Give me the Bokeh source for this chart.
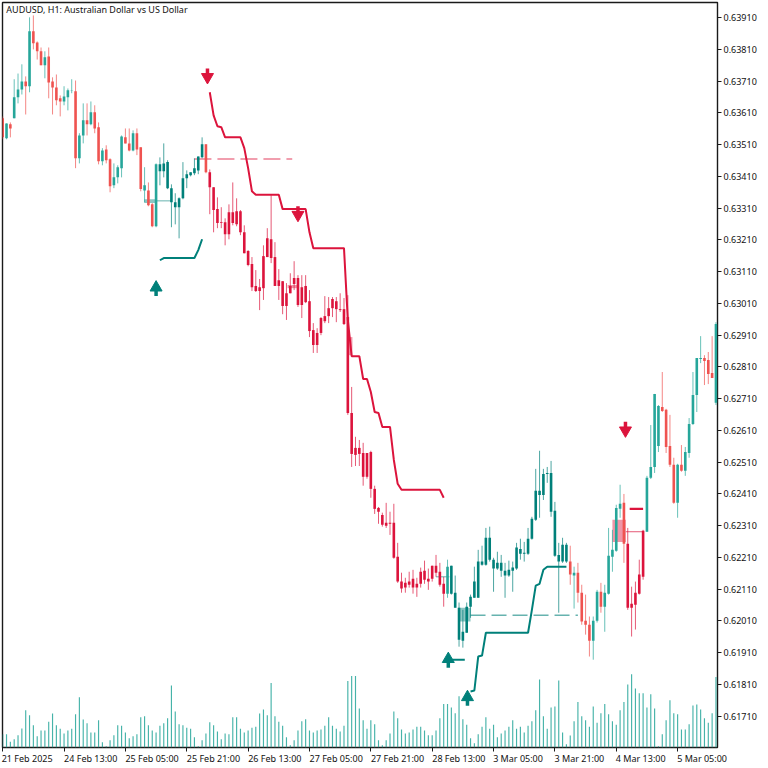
from bokeh.plotting import figure
from bokeh.models import Range1d, LinearAxis, FixedTicker, NumeralTickFormatter, Label
from bokeh.embed import file_html
from bokeh.resources import INLINE

opens = [63593,63530,63574,63593,63659,63684,63709,63694,63867,63832,
63804,63760,63788,63709,63690,63656,63646,63659,63679,63678,
63467,63539,63587,63574,63612,63565,63458,63495,63464,63382,
63407,63436,63533,63514,63492,63546,63502,63366,63366,63322,
63253,63426,63426,63455,63373,63329,63313,63341,63404,63414,
63420,63429,63470,63511,63423,63376,63307,63266,63266,63228,
63297,63259,63300,63234,63175,63134,63065,63049,63058,63156,
63212,63156,63083,63080,63002,63042,63071,63090,63005,63065,
63017,62926,62879,62917,62954,62970,62995,63017,62992,62992,
62967,62665,62533,62555,62539,62464,62542,62426,62366,62344,
62319,62319,62319,62212,62134,62130,62124,62143,62127,62127,
62140,62143,62143,62184,62165,62127,62096,62096,62099,62052,
61948,61973,62055,62083,62083,62187,62187,62272,62203,62175,
62193,62168,62153,62168,62175,62237,62222,62222,62269,62329,
62407,62407,62473,62476,62357,62197,62197,62250,62197,62153,
62162,62099,62011,61998,61948,62011,62102,62055,62096,62212,
62231,62363,62382,62253,62052,62061,62096,62149,62291,62461,
62495,62561,62684,62675,62561,62502,62382,62502,62483,62539,
62630,62722,62835,62838,62832,62791,62697]
highs = [63599,63577,63580,63716,63734,63763,63725,63911,63917,63835,
63816,63804,63816,63722,63731,63665,63694,63687,63716,63712,
63546,63640,63640,63646,63634,63580,63499,63508,63467,63451,
63445,63539,63561,63561,63555,63561,63502,63439,63391,63326,
63451,63470,63514,63461,63385,63357,63344,63455,63429,63423,
63467,63473,63533,63511,63432,63376,63344,63313,63278,63322,
63391,63341,63304,63256,63178,63156,63115,63087,63193,63247,
63351,63203,63118,63080,63074,63105,63143,63099,63099,63099,
63052,62948,62932,62967,63033,63030,63030,63030,63042,63027,
63036,62747,62590,62580,62571,62539,62546,62436,62369,62351,
62382,62354,62379,62256,62162,62146,62165,62171,62146,62178,
62200,62175,62184,62218,62193,62149,62203,62184,62153,62068,
62045,62068,62093,62181,62234,62247,62303,62307,62209,62228,
62218,62193,62200,62197,62256,62269,62259,62303,62338,62489,
62546,62489,62495,62514,62385,62256,62272,62256,62247,62181,
62193,62124,62093,62024,62024,62108,62130,62124,62303,62297,
62376,62439,62410,62303,62118,62134,62203,62297,62467,62627,
62725,62690,62794,62678,62659,62524,62505,62564,62558,62649,
62794,62838,62907,62847,62857,62907,62951]
lows = [63527,63527,63533,63593,63640,63668,63605,63675,63810,63778,
63760,63719,63656,63605,63634,63599,63634,63618,63672,63436,
63451,63514,63539,63571,63546,63448,63445,63451,63360,63373,
63388,63407,63514,63489,63489,63477,63363,63329,63316,63250,
63250,63382,63407,63370,63250,63259,63215,63338,63373,63410,
63414,63417,63467,63420,63291,63234,63247,63247,63193,63212,
63256,63253,63225,63168,63127,63049,63046,62989,63021,63156,
63137,63065,63021,62976,62958,63042,63052,62999,62964,63011,
62904,62854,62854,62910,62948,62948,62967,62951,62983,62942,
62659,62495,62498,62498,62436,62458,62398,62347,62316,62307,
62303,62281,62206,62130,62099,62099,62115,62096,62086,62115,
62127,62108,62134,62149,62118,62055,62083,62093,62052,61929,
61926,61973,62020,62083,62083,62184,62184,62197,62102,62171,
62149,62083,62149,62102,62171,62203,62197,62218,62266,62325,
62335,62391,62445,62338,62212,62036,62193,62193,62124,62049,
62068,61998,61967,61898,61888,62005,62036,61976,62093,62165,
62228,62335,62193,62045,61961,61983,62093,62140,62291,62457,
62476,62542,62668,62539,62495,62379,62335,62480,62467,62524,
62627,62668,62822,62753,62756,62775,62690]
closes = [63533,63577,63561,63659,63684,63709,63694,63867,63829,63804,
63760,63785,63706,63690,63650,63646,63662,63681,63680,63467,
63539,63587,63574,63612,63561,63458,63492,63461,63379,63407,
63439,63536,63514,63492,63546,63495,63370,63382,63319,63253,
63448,63448,63451,63373,63329,63313,63341,63404,63417,63423,
63436,63473,63511,63423,63376,63304,63263,63263,63228,63297,
63263,63300,63234,63168,63131,63061,63049,63061,63159,63215,
63153,63065,63065,63002,63042,63065,63090,63005,63061,63014,
62923,62879,62917,62964,62970,62995,63024,62992,62989,62945,
62665,62536,62555,62536,62464,62539,62426,62363,62354,62313,
62310,62316,62209,62134,62112,62115,62134,62115,62115,62165,
62168,62134,62184,62162,62124,62096,62181,62184,62052,61951,
61976,62055,62086,62134,62197,62197,62272,62203,62175,62193,
62168,62153,62171,62178,62241,62222,62225,62269,62332,62420,
62420,62473,62476,62354,62215,62218,62250,62197,62156,62162,
62099,62008,61998,61948,62011,62102,62055,62099,62215,62234,
62366,62379,62253,62052,62064,62099,62156,62294,62461,62495,
62725,62687,62671,62558,62502,62382,62502,62483,62542,62630,
62722,62838,62838,62829,62788,62775,62945]
volumes = [400,400,170,250,370,570,1120,970,670,340,510,
510,770,1020,670,560,420,510,560,1000,1510,
840,730,450,450,820,160,40,220,370,670,
650,450,280,340,400,910,940,670,510,450,
650,730,880,1860,1080,700,670,590,560,310,
40,220,420,760,670,480,250,420,400,910,
910,560,450,510,590,620,1020,
1140,970,1940,940,770,650,310,70,220,510,790,850,510,450,510,540,650,910,650,560,480,650,
2000,2150,2150,1170,820,560,820,700,220,70,220,420,1080,880,540,420,450,540,620,620,510,370,370,510,
880,1310,1310,1200,1030,1540,850,680,280,130,400,620,910,560,680,310,420,510,620,
820,560,620,450,650,790,1120,2040,940,560,1200,1230,2010,450,100,360,790,1370,940,820,
620,1230,740,1030,1310,1000,790,680,1120,1370,1890,2200,1770,1630,1630,1200,1600,1170,40,400,
820,1420,1030,1000,540,540,700,1260,1290,1140,880,740,1030,2120]

tick_index = [0,16,32,48,64,80,96,112,128,144,160,176]
tick_labels = ["21 Feb 2025","24 Feb 13:00","25 Feb 05:00","25 Feb 21:00","26 Feb 13:00","27 Feb 05:00",
               "27 Feb 21:00","28 Feb 13:00","3 Mar 05:00","3 Mar 21:00","4 Mar 13:00","5 Mar 05:00"]
price_ticks = [0.63910,0.63810,0.63710,0.63610,0.63510,0.63410,0.63310,0.63210,0.63110,0.63010,0.62910,
               0.62810,0.62710,0.62610,0.62510,0.62410,0.62310,0.62210,0.62110,0.62010,0.61910,0.61810,0.61710]

crimson_spans = [(54,115),(163,167)]
dark_spans = [(41,52),(117,147)]

stop_down_i = list(range(54,116))
stop_down = [63675,63602,63568,63565,63533,63533,63533,63533,63533,63499,63436,63363,
             63352,63352,63352,63352,63352,63352,63352,63307,63307,63307,63307,63307,63307,63307,
             63234,63184,63184,63184,63184,63184,63184,63184,63184,63184,62958,62844,62844,62844,
             62772,62772,62731,62668,62665,62621,62621,62621,62517,62442,
             62423,62423,62423,62423,62423,62423,62423,62423,62423,62423,62423,62398]
stop_up1_i = list(range(41,53))
stop_up1 = [63146,63153,63153,63153,63153,63153,63153,63153,63153,63153,63178,63212]
stop_up2_i = [117,120.5]
stop_up2 = [61888,61888]
stop_up3_i = list(range(122,148))
stop_up3 = [61788,61791,61898,61901,61973,61973,61973,61973,61973,61973,61973,61973,61973,61973,61973,61973,
            62045,62121,62127,62171,62181,62181,62181,62181,62181,62181]
stop_down2_i = [163.5,167]
stop_down2 = [62363,62363]

dash_red = ([50,75.5],[63465,63465])
dash_teal = ([122,150],[62028,62028])
thin_teal = [([40,43.9],[63333,63333]),([113,116.5],[62149,62149])]
thin_red = [([162.5,167],[62291,62291])]
boxes_teal = [(36.9,40,63326,63338),(118.8,122,62008,62052)]
boxes_red = [(159,162.5,62259,62329),(89.9,91.2,62847,62904),(74.3,77.2,63058,63068)]

arrows_down = [(53.4,63731),(77,63297),(162.4,62618)]
arrows_up = [(40,63052),(116.2,61882),(121.2,61762)]

TEAL, SALMON, CRIMSON, DARK = "#26A69A", "#EF5350", "#DC143C", "#00807A"
PT = 1e-5
n = len(opens)
assert n == len(highs) == len(lows) == len(closes) == len(volumes) == 187
assert len(stop_down) == len(stop_down_i) and len(stop_up1) == len(stop_up1_i) and len(stop_up3) == len(stop_up3_i)

def pr(v):
    return [a*PT for a in v]

def in_span(i, spans):
    return any(a <= i <= b for a, b in spans)

colors = []
for i in range(n):
    if in_span(i, crimson_spans):
        colors.append(CRIMSON)
    elif in_span(i, dark_spans):
        colors.append(DARK)
    else:
        colors.append(TEAL if closes[i] >= opens[i] else SALMON)

idx = list(range(n))
Y_LOW = 0.616115
p = figure(width=760, height=767, output_backend="svg", toolbar_location=None,
           x_range=Range1d(-0.05, 186.4), y_range=Range1d(Y_LOW, 0.639577),
           min_border_left=2, min_border_top=2, min_border_right=43, min_border_bottom=16,
           x_axis_location=None, y_axis_location=None, background_fill_color="white")
p.grid.visible = False
p.outline_line_color = "#1a1a1a"
p.outline_line_width = 1.4

p.extra_y_ranges = {"vol": Range1d(0, 22380)}
p.vbar(x=idx, top=volumes, bottom=0, width=0.3, fill_color=TEAL, fill_alpha=0.85, line_color=None, y_range_name="vol")

for (a, b, lo, hi) in boxes_teal:
    p.quad(left=a, right=b, bottom=lo*PT, top=hi*PT, fill_color=DARK, fill_alpha=0.45, line_color=None)
for (a, b, lo, hi) in boxes_red:
    p.quad(left=a, right=b, bottom=lo*PT, top=hi*PT, fill_color=CRIMSON, fill_alpha=0.45, line_color=None)

p.line(dash_red[0], pr(dash_red[1]), line_color=CRIMSON, line_alpha=0.55, line_width=1.5, line_dash="17 6")
p.line(dash_teal[0], pr(dash_teal[1]), line_color=DARK, line_alpha=0.6, line_width=1.5, line_dash="15 6")
for xs, ys in thin_teal:
    p.line(xs, pr(ys), line_color=DARK, line_alpha=0.6, line_width=1)
for xs, ys in thin_red:
    p.line(xs, pr(ys), line_color=CRIMSON, line_alpha=0.7, line_width=1)

p.segment(x0=idx, x1=idx, y0=pr(lows), y1=pr(highs), line_color=colors, line_width=1, line_alpha=0.7)
tops = [max(a, b)*PT for a, b in zip(opens, closes)]
bots = [min(a, b)*PT for a, b in zip(opens, closes)]
p.vbar(x=idx, top=tops, bottom=bots, width=0.68, fill_color=colors, line_color=None)

p.line(stop_down_i, pr(stop_down), line_color=CRIMSON, line_width=2)
p.line(stop_down2_i, pr(stop_down2), line_color=CRIMSON, line_width=2.2)
p.line(stop_up1_i, pr(stop_up1), line_color=DARK, line_width=2)
p.line(stop_up2_i, pr(stop_up2), line_color=DARK, line_width=2)
p.line(stop_up3_i, pr(stop_up3), line_color=DARK, line_width=2)

STEM = 0.00019
HEAD = 0.00008
for (i, v) in arrows_down:
    p.segment(x0=[i], x1=[i], y0=[v*PT + STEM], y1=[v*PT], line_color=CRIMSON, line_width=3.5)
    p.scatter([i], [v*PT - HEAD], marker="inverted_triangle", size=12, color=CRIMSON)
for (i, v) in arrows_up:
    p.segment(x0=[i], x1=[i], y0=[v*PT - STEM], y1=[v*PT], line_color=DARK, line_width=3.5)
    p.scatter([i], [v*PT + HEAD], marker="triangle", size=12, color=DARK)

FONT = "Noto Sans"
xticks = LinearAxis(ticker=FixedTicker(ticks=tick_index))
xticks.major_label_text_font_size = "0px"
xticks.major_label_text_color = None
xticks.major_label_standoff = 0
xticks.major_tick_in = 0
xticks.major_tick_out = 4
xticks.minor_tick_line_color = None
xticks.axis_line_color = None
xticks.major_tick_line_color = "#1a1a1a"
p.add_layout(xticks, "below")

label_pos = [i + len(t)*0.58 for i, t in zip(tick_index, tick_labels)]
xlabels = LinearAxis(ticker=FixedTicker(ticks=label_pos), major_label_overrides=dict(zip(label_pos, tick_labels)))
xlabels.major_label_text_font = FONT
xlabels.major_label_text_font_size = "9px"
xlabels.major_label_text_color = "#111111"
xlabels.major_label_standoff = 0
xlabels.major_tick_in = 0
xlabels.major_tick_out = 0
xlabels.minor_tick_line_color = None
xlabels.axis_line_color = None
xlabels.major_tick_line_color = None
p.add_layout(xlabels, "below")

yaxis = LinearAxis(ticker=FixedTicker(ticks=price_ticks), formatter=NumeralTickFormatter(format="0.00000"))
yaxis.major_label_text_font = FONT
yaxis.major_label_text_font_size = "9px"
yaxis.major_label_text_color = "#111111"
yaxis.major_label_standoff = 2
yaxis.major_tick_in = 0
yaxis.major_tick_out = 4
yaxis.minor_tick_line_color = None
yaxis.axis_line_color = None
yaxis.major_tick_line_color = "#1a1a1a"
p.add_layout(yaxis, "right")

p.add_layout(Label(x=0.95, y=0.63937, text="AUDUSD, H1:  Australian Dollar vs US Dollar",
                   text_font=FONT, text_font_size="9px", text_color="#111111", text_baseline="middle"))

open("out.html", "w").write(file_html(p, INLINE))
